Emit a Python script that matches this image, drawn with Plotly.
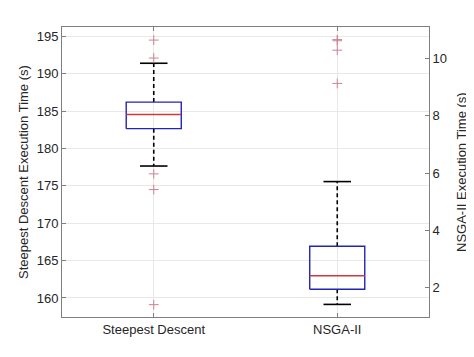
import plotly.graph_objects as go

categories = ["Steepest Descent", "NSGA-II"]
positions = [1, 2]
# box statistics per method: lower whisker, q1, median, q3, upper whisker
lower_whisker = [177.65, 1.41]
q1 = [182.65, 1.94]
median = [184.55, 2.41]
q3 = [186.2, 3.44]
upper_whisker = [191.4, 5.70]
outliers = [
    [194.5, 192.1, 176.6, 174.5, 159.1],
    [10.66, 10.62, 10.29, 9.13],
]
left_ticks = [160, 165, 170, 175, 180, 185, 190, 195]
right_ticks = [2, 4, 6, 8, 10]
left_title = "Steepest Descent Execution Time (s)"
right_title = "NSGA-II Execution Time (s)"

BOX_HW = 0.15
CAP_HW = 0.075
BLUE = "#2424b4"
RED = "#d03a3a"
OUT = "#cc8290"
TXT = "#262626"

fig = go.Figure()
for i, (pos, name) in enumerate(zip(positions, categories)):
    yax = "y" if i == 0 else "y2"
    fig.add_trace(go.Scatter(
        x=[pos, pos, None, pos, pos],
        y=[q3[i], upper_whisker[i], None, q1[i], lower_whisker[i]],
        mode="lines", line=dict(color="black", width=1.6, dash="4px,3px"),
        yaxis=yax, showlegend=False, hoverinfo="skip"))
    fig.add_trace(go.Scatter(
        x=[pos - CAP_HW, pos + CAP_HW, None, pos - CAP_HW, pos + CAP_HW],
        y=[upper_whisker[i], upper_whisker[i], None, lower_whisker[i], lower_whisker[i]],
        mode="lines", line=dict(color="black", width=1.6),
        yaxis=yax, showlegend=False, hoverinfo="skip"))
    fig.add_trace(go.Scatter(
        x=[pos - BOX_HW, pos + BOX_HW, pos + BOX_HW, pos - BOX_HW, pos - BOX_HW],
        y=[q1[i], q1[i], q3[i], q3[i], q1[i]],
        mode="lines", line=dict(color=BLUE, width=1.4),
        yaxis=yax, showlegend=False, name=name))
    fig.add_trace(go.Scatter(
        x=[pos - BOX_HW, pos + BOX_HW], y=[median[i], median[i]],
        mode="lines", line=dict(color=RED, width=1.4),
        yaxis=yax, showlegend=False, hoverinfo="skip"))
    fig.add_trace(go.Scatter(
        x=[pos] * len(outliers[i]), y=outliers[i], mode="markers",
        marker=dict(symbol="cross-thin-open", size=7, color=OUT,
                    line=dict(color=OUT, width=1)),
        yaxis=yax, showlegend=False))

font = dict(family="Liberation Sans, Arial, sans-serif", size=13, color=TXT)
axis_common = dict(showline=True, linecolor="#7f7f7f", linewidth=1,
                   ticks="inside", ticklen=4, tickcolor="#7f7f7f", zeroline=False,
                   automargin=False, tickfont=dict(size=13, color=TXT))
# page body has an 8px margin, so the figure is sized to fit inside the window
fig.update_layout(
    width=466, height=349,
    margin=dict(l=54, r=45, t=19, b=40),
    paper_bgcolor="white", plot_bgcolor="white",
    font=font,
    xaxis=dict(range=[0.5, 2.5], tickvals=positions, ticktext=categories,
               showgrid=True, gridcolor="#e8e8e8", gridwidth=1, mirror="ticks",
               **axis_common),
    yaxis=dict(range=[157.45, 196.25], tickvals=left_ticks,
               showgrid=True, gridcolor="#e8e8e8", gridwidth=1, **axis_common),
    yaxis2=dict(range=[0.97, 11.1], tickvals=right_ticks, overlaying="y", side="right",
                showgrid=False, **axis_common),
    annotations=[
        dict(text=left_title, xref="paper", yref="paper", x=-39 / 367, y=0.5,
             xanchor="center", yanchor="middle", textangle=-90, showarrow=False,
             font=dict(size=13, color=TXT)),
        dict(text=right_title, xref="paper", yref="paper", x=399 / 367, y=0.5,
             xanchor="center", yanchor="middle", textangle=-90, showarrow=False,
             font=dict(size=13, color=TXT)),
    ],
)

fig.write_html("out.html")
